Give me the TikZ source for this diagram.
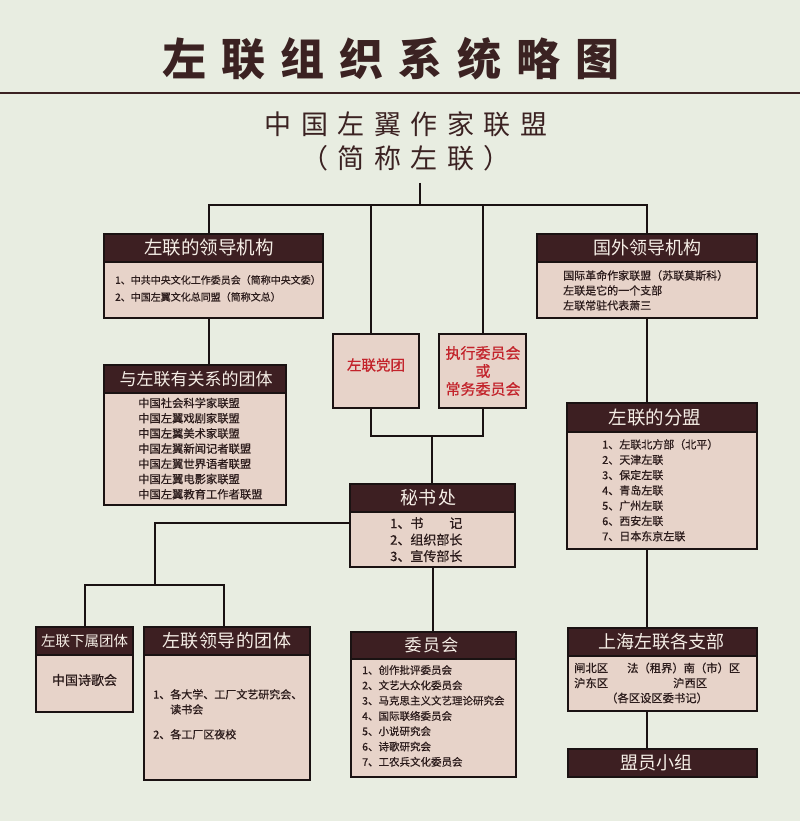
\documentclass[tikz,border=0pt]{standalone}
\usepackage{fontspec}
\setmainfont{Noto Sans CJK SC}
\newfontfamily\bodyfont[FakeBold=0.6]{Noto Sans CJK SC}
\definecolor{bgc}{HTML}{E8EDE1}
\definecolor{hdrc}{HTML}{3D1F22}
\definecolor{bodyc}{HTML}{E7D3C9}
\definecolor{linec}{HTML}{1A1212}
\definecolor{titlec}{HTML}{3B2222}
\definecolor{txtc}{HTML}{2B1B1B}
\definecolor{hdrt}{HTML}{F5EEE6}
\definecolor{redt}{HTML}{C3232B}
\tikzset{
  boxb/.style={draw=linec, line width=1.6pt, fill=bodyc, inner sep=0pt, outer sep=0pt},
  hdrb/.style={draw=linec, line width=1.6pt, fill=hdrc, inner sep=0pt, outer sep=0pt, anchor=north},
  htxt/.style={inner sep=0pt, text=hdrt},
  conn/.style={draw=linec, line width=2pt},
  btxt/.style={inner sep=0pt, text=txtc, align=left, anchor=north west},
  stxt/.style={inner sep=0pt, text=txtc},
  rtxt/.style={inner sep=0pt, text=redt, align=center},
}
\begin{document}
\begin{tikzpicture}[x=1pt,y=-1pt]
\fill[bgc] (0,0) rectangle (800,821);
\useasboundingbox (0,0) rectangle (800,821);
% title
\node[inner sep=0pt, text=titlec, font=\bfseries\fontsize{44}{44}\selectfont] (title) at (391,58.5)
  {左\hspace{15pt}联\hspace{15pt}组\hspace{15pt}织\hspace{15pt}系\hspace{15pt}统\hspace{15pt}略\hspace{15pt}图};
\draw[titlec, line width=2.3pt] (0,93) -- (800,93);
% root
\node[inner sep=0pt, text=titlec, align=center, font=\fontsize{27}{34}\selectfont] (cn) at (406,141)
  {中\hspace{9.5pt}国\hspace{9.5pt}左\hspace{9.5pt}翼\hspace{9.5pt}作\hspace{9.5pt}家\hspace{9.5pt}联\hspace{9.5pt}盟\\
   （\hspace{9.5pt}简\hspace{9.5pt}称\hspace{9.5pt}左\hspace{9.5pt}联\hspace{9.5pt}）};

% boxes
\node[boxb, minimum width=219pt, minimum height=84pt] (lead) at (213.5,276) {};
\node[hdrb, minimum width=219pt, minimum height=28pt] (lead-h) at (lead.north) {};
\node[htxt, font=\fontsize{18.5}{20}\selectfont] (lead-t) at (209,248) {左联的领导机构};
\node[btxt, font=\bodyfont\fontsize{10}{17}\selectfont] (lead-b) at (115,275)
  {1、中共中央文化工作委员会（简称中央文委）\\2、中国左翼文化总同盟（简称文总）};

\node[boxb, minimum width=182pt, minimum height=140pt] (rel) at (195,435) {};
\node[hdrb, minimum width=182pt, minimum height=28pt] (rel-h) at (rel.north) {};
\node[htxt, font=\fontsize{17}{20}\selectfont] (rel-t) at (196,379) {与左联有关系的团体};
\node[btxt, font=\bodyfont\fontsize{11.3}{15.2}\selectfont] (rel-b) at (138,397.5)
  {中国社会科学家联盟\\中国左翼戏剧家联盟\\中国左翼美术家联盟\\中国左翼新闻记者联盟\\中国左翼世界语者联盟\\中国左翼电影家联盟\\中国左翼教育工作者联盟};

\node[boxb, minimum width=86pt, minimum height=74pt] (party) at (376,371) {};
\node[rtxt, font=\bodyfont\fontsize{14.5}{18}\selectfont] (party-t) at (376,365) {左联党团};
\node[boxb, minimum width=87pt, minimum height=74pt] (exec) at (482.5,371) {};
\node[rtxt, font=\bodyfont\fontsize{15}{18}\selectfont] (exec-t) at (483,371) {执行委员会\\或\\常务委员会};

\node[boxb, minimum width=165pt, minimum height=83pt] (sec) at (432.5,525.5) {};
\node[hdrb, minimum width=165pt, minimum height=28pt] (sec-h) at (sec.north) {};
\node[htxt, font=\fontsize{18}{20}\selectfont] (sec-t) at (428,498) {秘\hspace{1pt}书\hspace{1pt}处};
\node[btxt, font=\bodyfont\fontsize{13}{16.5}\selectfont] (sec-b) at (390,517)
  {1、书　　记\\2、组织部长\\3、宣传部长};

\node[boxb, minimum width=220pt, minimum height=84pt] (foreign) at (647,276) {};
\node[hdrb, minimum width=220pt, minimum height=28pt] (foreign-h) at (foreign.north) {};
\node[htxt, font=\fontsize{18}{20}\selectfont] (foreign-t) at (647,248) {国外领导机构};
\node[btxt, font=\bodyfont\fontsize{11}{15}\selectfont] (foreign-b) at (563,270)
  {国际革命作家联盟（苏联莫斯科）\\左联是它的一个支部\\左联常驻代表萧三};

\node[boxb, minimum width=190pt, minimum height=146pt] (branch) at (662,476) {};
\node[hdrb, minimum width=190pt, minimum height=29pt] (branch-h) at (branch.north) {};
\node[htxt, font=\fontsize{18.5}{20}\selectfont] (branch-t) at (655,417.5) {左联的分盟};
\node[btxt, font=\bodyfont\fontsize{11}{15.3}\selectfont] (branch-b) at (602,439)
  {1、左联北方部（北平）\\2、天津左联\\3、保定左联\\4、青岛左联\\5、广州左联\\6、西安左联\\7、日本东京左联};

\node[boxb, minimum width=97pt, minimum height=85pt] (sub) at (84.5,669.5) {};
\node[hdrb, minimum width=97pt, minimum height=28pt] (sub-h) at (sub.north) {};
\node[htxt, font=\fontsize{14.5}{16}\selectfont] (sub-t) at (84.5,641) {左联下属团体};
\node[stxt, font=\bodyfont\fontsize{13}{15}\selectfont] (sub-b) at (84.5,680) {中国诗歌会};

\node[boxb, minimum width=166pt, minimum height=153pt] (ledg) at (227,703.5) {};
\node[hdrb, minimum width=166pt, minimum height=28pt] (ledg-h) at (ledg.north) {};
\node[htxt, font=\fontsize{18}{20}\selectfont] (ledg-t) at (227,641) {左\hspace{0.5pt}联\hspace{0.5pt}领\hspace{0.5pt}导\hspace{0.5pt}的\hspace{0.5pt}团\hspace{0.5pt}体};
\node[btxt, font=\bodyfont\fontsize{11}{15}\selectfont] (ledg-b) at (153,689)
  {1、各大学、工厂文艺研究会、\\\hphantom{1、}读书会\\[10pt]2、各工厂区夜校};

\node[boxb, minimum width=165pt, minimum height=145pt] (comm) at (433.5,704.5) {};
\node[hdrb, minimum width=165pt, minimum height=27pt] (comm-h) at (comm.north) {};
\node[htxt, font=\fontsize{17}{20}\selectfont] (comm-t) at (431.5,645.5) {委\hspace{1.5pt}员\hspace{1.5pt}会};
\node[btxt, font=\bodyfont\fontsize{10.5}{15.3}\selectfont] (comm-b) at (362,665)
  {1、创作批评委员会\\2、文艺大众化委员会\\3、马克思主义文艺理论研究会\\4、国际联络委员会\\5、小说研究会\\6、诗歌研究会\\7、工农兵文化委员会};

\node[boxb, minimum width=189pt, minimum height=83pt] (sh) at (662.5,669.5) {};
\node[hdrb, minimum width=189pt, minimum height=28pt] (sh-h) at (sh.north) {};
\node[htxt, font=\fontsize{18}{20}\selectfont] (sh-t) at (661,642) {上海左联各支部};
\node[stxt, anchor=west, font=\bodyfont\fontsize{11.3}{15}\selectfont] (sh-a) at (574,668) {闸北区};
\node[stxt, anchor=west, font=\bodyfont\fontsize{11.3}{15}\selectfont] (sh-b) at (627,668) {法（租界）南（市）区};
\node[stxt, anchor=west, font=\bodyfont\fontsize{11.3}{15}\selectfont] (sh-c) at (574,683) {沪东区};
\node[stxt, anchor=west, font=\bodyfont\fontsize{11.3}{15}\selectfont] (sh-d) at (673,683) {沪西区};
\node[stxt, font=\bodyfont\fontsize{11.3}{15}\selectfont] (sh-e) at (657,698) {（各区设区委书记）};

\node[boxb, fill=hdrc, minimum width=189pt, minimum height=28pt] (mem) at (662.5,763) {};
\node[htxt, font=\fontsize{18}{20}\selectfont] (mem-t) at (656.5,763) {盟员小组};

% junction coordinates
\coordinate (r0) at (420,183);
\coordinate (bus1) at (420,205);
\coordinate (lx) at (209,0);
\coordinate (px) at (371,0);
\coordinate (bus2) at (432,436);
\coordinate (k1) at (155,523);
\coordinate (k2) at (155,585);
\coordinate (lx2) at (224,0);
\coordinate (rx) at (647,0);

% connectors
\draw[conn] (r0) -- (bus1);
\draw[conn] (lead.north -| lx) |- (bus1) -| (foreign.north);
\draw[conn] (party.north -| px) -- (px |- bus1);
\draw[conn] (exec.north) -- (exec.north |- bus1);
\draw[conn] (lead.south -| lx) -- (rel.north -| lx);
\draw[conn] (party.south -| px) |- (bus2) -| (exec.south);
\draw[conn] (bus2) -- (sec.north -| bus2);
\draw[conn] (k1 -| sec.west) -- (k1) -- (k2);
\draw[conn] (sub.north) |- (k2) -| (ledg.north -| lx2);
\draw[conn] (sec.south) -- (sec.south |- comm.north);
\draw[conn] (foreign.south) -- (foreign.south |- branch.north);
\draw[conn] (branch.south -| rx) -- (sh.north -| rx);
\draw[conn] (sh.south -| rx) -- (mem.north -| rx);
\end{tikzpicture}
\end{document}
